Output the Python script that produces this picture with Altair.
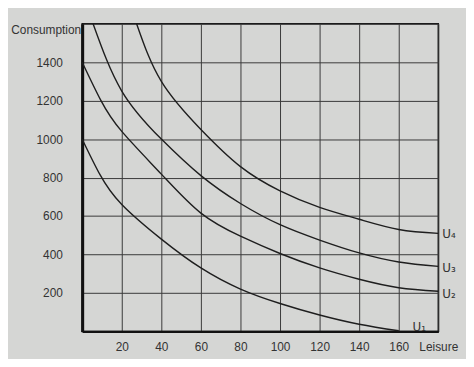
import altair as alt
import pandas as pd

# --- data ---
u1_x = [0, 9, 20, 40, 60, 80, 100, 120, 140, 160]
u1_y = [1000, 815, 660, 480, 330, 220, 145, 85, 37, 3]
u2_x = [0, 9.5, 20, 40, 60, 80, 100, 120, 140, 160, 180]
u2_y = [1400, 1200, 1040, 818, 615, 495, 405, 330, 271, 227, 209]
u3_x = [5.5, 20, 40, 60, 80, 100, 120, 140, 160, 180]
u3_y = [1600, 1250, 1000, 810, 665, 555, 475, 408, 361, 338]
u4_x = [27.5, 40, 60, 80, 100, 120, 140, 160, 180]
u4_y = [1600, 1300, 1050, 857, 731, 645, 583, 530, 510]

curve_names = ["U1", "U2", "U3", "U4"]
label_text = ["U\u2081", "U\u2082", "U\u2083", "U\u2084"]
label_x = [165, 180, 180, 180]
label_y = [24, 195, 330, 505]

x_ticks = [0, 20, 40, 60, 80, 100, 120, 140, 160, 180]
y_ticks = [0, 200, 400, 600, 800, 1000, 1200, 1400, 1600]

rows = []
for name, xs, ys in zip(curve_names, [u1_x, u2_x, u3_x, u4_x], [u1_y, u2_y, u3_y, u4_y]):
    for i, (a, b) in enumerate(zip(xs, ys)):
        rows.append({"curve": name, "leisure": a, "consumption": b, "order": i})
df = pd.DataFrame(rows)
labels = pd.DataFrame({"text": label_text, "leisure": label_x, "consumption": label_y})
cons_df = pd.DataFrame({"leisure": [0], "consumption": [1600], "text": ["Consumption"]})

BG = "#d5d6d4"
FONT = "Liberation Sans"

xscale = alt.Scale(domain=[0, 180], nice=False, zero=False)
yscale = alt.Scale(domain=[0, 1600], nice=False, zero=False)

xaxis = alt.Axis(
    values=x_ticks, title=None, grid=True, gridColor="#3a3a3a", gridWidth=1,
    ticks=False, domain=True, domainColor="#111", domainWidth=2.5,
    labelExpr="(datum.value == 0) ? '' : (datum.value == 180 ? 'Leisure' : datum.label)",
    labelPadding=10, labelFont=FONT, labelFontSize=12, labelColor="#333",
    labelOverlap=False, labelFlush=False,
)
yaxis = alt.Axis(
    values=y_ticks, title=None, grid=True, gridColor="#3a3a3a", gridWidth=1,
    ticks=False, domain=True, domainColor="#111", domainWidth=3,
    format="d",
    labelExpr="(datum.value == 0 || datum.value == 1600) ? '' : datum.label",
    labelPadding=20, labelFont=FONT, labelFontSize=12, labelColor="#333",
    labelOverlap=False, labelFlush=False,
)

X = alt.X("leisure:Q", scale=xscale, axis=xaxis)
Y = alt.Y("consumption:Q", scale=yscale, axis=yaxis)

lines = alt.Chart(df).mark_line(interpolate="natural", strokeWidth=1.4, color="#1e1e1e").encode(
    x=X, y=Y, detail="curve:N", order="order:Q",
)

ulabels = alt.Chart(labels).mark_text(
    align="left", baseline="middle", dx=4, font="DejaVu Sans", fontSize=12, color="#333"
).encode(x=X, y=Y, text="text:N")

cons = alt.Chart(cons_df).mark_text(
    align="right", baseline="middle", dx=-1, dy=6, font=FONT, fontSize=12, color="#333"
).encode(x=X, y=Y, text="text:N")

chart = (lines + ulabels + cons).properties(
    width=360, height=311,
    autosize=alt.AutoSizeParams(type="none"),
    padding={"left": 75, "top": 14, "right": 28, "bottom": 26},
    background=BG,
).configure_view(stroke="#111", strokeWidth=1.5, fill=BG)

chart.save("out.html", embed_options={"renderer": "svg", "actions": False})
